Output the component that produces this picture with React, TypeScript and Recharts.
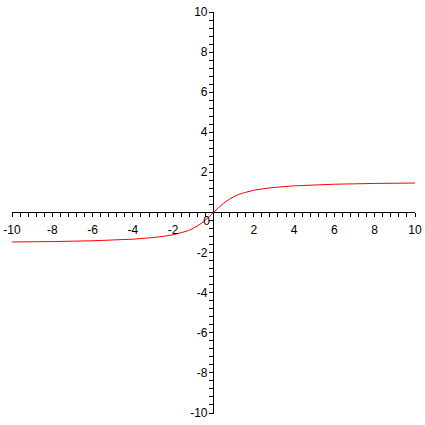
import React from "react";
import { LineChart, Line, XAxis, YAxis, ReferenceLine, ReferenceDot } from "recharts";

// curve
const xs = [-10, -9, -8, -7, -6, -5, -4, -3, -2.5, -2, -1.5, -1.25, -1, -0.75, -0.5, -0.25, 0,
  0.25, 0.5, 0.75, 1, 1.25, 1.5, 2, 2.5, 3, 4, 5, 6, 7, 8, 9, 10];
const ys = [-1.47, -1.46, -1.45, -1.43, -1.41, -1.37, -1.33, -1.25, -1.19, -1.11, -0.98, -0.9, -0.79, -0.64, -0.46, -0.24, 0,
  0.24, 0.46, 0.64, 0.79, 0.9, 0.98, 1.11, 1.19, 1.25, 1.33, 1.37, 1.41, 1.43, 1.45, 1.46, 1.47];

const majorTicks = [-10, -8, -6, -4, -2, 2, 4, 6, 8, 10];
const minorTicks = [-10, -9.6, -9.2, -8.8, -8.4, -8, -7.6, -7.2, -6.8, -6.4, -6, -5.6, -5.2, -4.8, -4.4, -4, -3.6, -3.2,
  -2.8, -2.4, -2, -1.6, -1.2, -0.8, -0.4, 0.4, 0.8, 1.2, 1.6, 2, 2.4, 2.8, 3.2, 3.6, 4, 4.4, 4.8, 5.2, 5.6, 6, 6.4,
  6.8, 7.2, 7.6, 8, 8.4, 8.8, 9.2, 9.6, 10];

const data = xs.map((x, i) => ({ x, y: ys[i] }));

const font = { fontFamily: "Liberation Sans, Arial, sans-serif", fontSize: 12, fill: "#000" };

export default function App() {
  return (
    <div style={{ position: "absolute", left: 0, top: 0, background: "#fff" }}>
      <LineChart width={425} height={425} data={data} margin={{ top: 12, right: 10, bottom: 12, left: 12 }}>
        <XAxis dataKey="x" type="number" domain={[-10, 10]} hide />
        <YAxis type="number" domain={[-10, 10]} hide />
        <ReferenceLine segment={[{ x: -10, y: 0 }, { x: 10, y: 0 }]} stroke="#000" strokeWidth={1} shapeRendering="crispEdges" />
        <ReferenceLine segment={[{ x: 0, y: -10 }, { x: 0, y: 10 }]} stroke="#000" strokeWidth={1} shapeRendering="crispEdges" />
        {minorTicks.map((t) => (
          <ReferenceLine key={"xt" + t} segment={[{ x: t, y: 0 }, { x: t, y: -0.2 }]} stroke="#000" shapeRendering="crispEdges" />
        ))}
        {minorTicks.map((t) => (
          <ReferenceLine key={"yt" + t} segment={[{ x: -0.2, y: t }, { x: 0, y: t }]} stroke="#000" shapeRendering="crispEdges" />
        ))}
        {majorTicks.map((t) => (
          <ReferenceDot key={"xl" + t} x={t} y={0} r={0} stroke="none"
            label={(p: any) => (
              <text x={p.viewBox.x} y={p.viewBox.y + 21} textAnchor="middle" {...font}>{t}</text>
            )} />
        ))}
        {majorTicks.map((t) => (
          <ReferenceDot key={"yl" + t} x={0} y={t} r={0} stroke="none"
            label={(p: any) => (
              <text x={p.viewBox.x - 6} y={p.viewBox.y + 4} textAnchor="end" {...font}>{t}</text>
            )} />
        ))}
        <ReferenceDot x={0} y={0} r={0} stroke="none"
          label={(p: any) => (
            <text x={p.viewBox.x - 7} y={p.viewBox.y + 12} textAnchor="middle" {...font}>0</text>
          )} />
        <Line dataKey="y" type="linear" stroke="#ff0000" strokeWidth={1} dot={false} isAnimationActive={false} />
      </LineChart>
    </div>
  );
}
